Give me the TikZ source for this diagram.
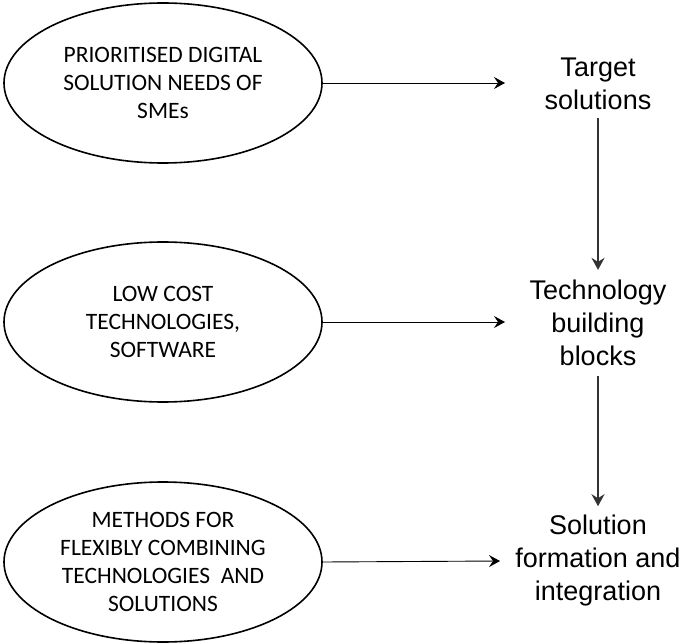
\documentclass[tikz,border=0pt]{standalone}
\usepackage{fontspec}
\setmainfont{Liberation Sans}
\newfontfamily\ellfont{Carlito}
\usetikzlibrary{shapes.geometric,arrows.meta}
\begin{document}
\begin{tikzpicture}[x=1pt,y=-1pt,
  ell/.style={draw,line width=1.6pt,ellipse,minimum width=318pt,minimum height=160pt,inner sep=0pt,align=center,font=\ellfont\fontsize{23.5}{28}\selectfont},
  lab/.style={align=center,font=\fontsize{27}{33}\selectfont,inner sep=2pt},
  harr/.style={line width=0.9pt,-{Stealth[length=11pt,width=12pt,inset=4pt]}},
  varr/.style={line width=2.4pt,draw=black!80,-{Stealth[length=12pt,width=13pt,inset=4pt]}}]
\useasboundingbox (0,0) rectangle (685,644);
\node[ell] (e1) at (163,83) {PRIORITISED DIGITAL\\SOLUTION NEEDS OF\\SMEs};
\node[ell] (e2) at (163,322) {LOW COST\\TECHNOLOGIES,\\SOFTWARE};
\node[ell] (e3) at (163,562) {METHODS FOR\\FLEXIBLY COMBINING\\TECHNOLOGIES\ \ AND\\SOLUTIONS};
\node[lab] (t1) at (598,84) {Target\\solutions};
\node[lab] (t2) at (598,323) {Technology\\building\\blocks};
\node[lab] (t3) at (598,561) {Solution\\formation and\\integration};
\coordinate (a1) at (505,83);
\coordinate (a2) at (505,322);
\coordinate (a3) at (500,561);
\draw[harr] (e1.east) -- (a1);
\draw[harr] (e2.east) -- (a2);
\draw[harr] (e3.east) -- (a3);
\draw[varr,shorten <=6pt,shorten >=8pt] (t1.south) -- (t2.north);
\draw[varr,shorten <=8pt,shorten >=7pt] (t2.south) -- (t3.north);
\end{tikzpicture}
\end{document}
